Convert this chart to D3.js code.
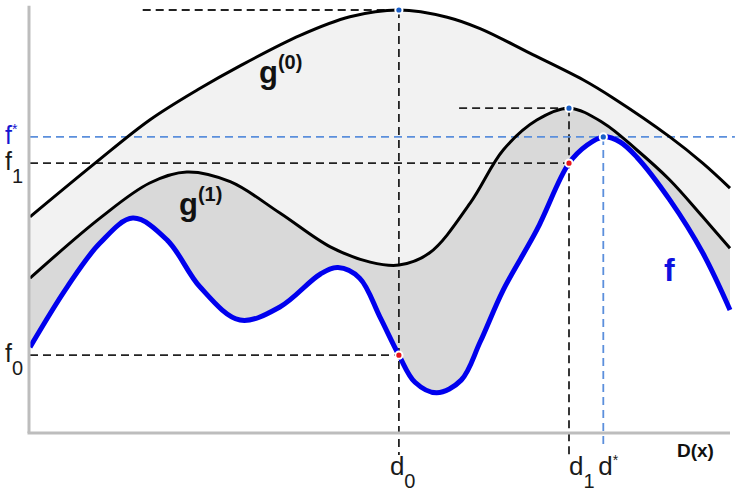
<!DOCTYPE html>
<html>
<head>
<meta charset="utf-8">
<script src="https://cdn.jsdelivr.net/npm/d3@7"></script>
<style>
  html, body { margin: 0; padding: 0; background: #fff; }
  svg { display: block; }
  text { font-family: "Liberation Sans", Arial, Helvetica, sans-serif; }
</style>
</head>
<body>
<div id="chart"></div>
<script>
// ---- Data (abstract units: x 0..100, y 0..100) ----
const g0Points = [
  [0, 51.1], [9.3, 63.8], [17.1, 74.0], [24, 81.2], [30, 86.8], [38.6, 94.0],
  [45.7, 98.4], [52.7, 100], [59.6, 98.3], [64.3, 95.6], [71.4, 89.8], [79, 83.5],
  [83.3, 79.2], [91.4, 70.0], [96.1, 63.8], [100, 57.9]
];
const g1Points = [
  [0, 36.6], [10, 50.8], [17.1, 59.1], [22.4, 61.7], [28.6, 59.4], [35.7, 52.0],
  [42.9, 44.0], [48.6, 40.4], [52.7, 39.7], [57.1, 42.6], [62.9, 54.4], [67.6, 66.9],
  [72.4, 74.0], [77, 76.8], [81.9, 73.3], [86.7, 66.9], [91.4, 59.8], [96.1, 51.1],
  [100, 43.7]
];
const fPoints = [
  [0, 20.3], [5.3, 34.5], [10, 44.9], [14.7, 50.8], [19.6, 45.6], [24.3, 34.5],
  [30, 26.7], [35.7, 29.8], [41.5, 37.6], [44.0, 39.1], [47.1, 36.6], [50, 27.4], [52.7, 18.4],
  [55, 12.0], [58.1, 9.5], [61.6, 12.5], [64.3, 21.5], [67.6, 33.8], [72.4, 48.0],
  [77, 63.8], [79.6, 68.1], [81.9, 70.0], [84.3, 68.8], [86.7, 65.2], [91.4, 55.1],
  [96.1, 42.6], [100, 29.1]
];
// key positions
const dValues = { d0: 52.7, d1: 77, dStar: 81.9 };
const fValues = { f0: 18.4, f1: 63.8, fStar: 70.0, g1Peak: 76.8, g0Peak: 100 };
const yLabels = [
  { main: "f", mark: "*", kind: "sup", value: 70.0, color: "#1515d0" },
  { main: "f", mark: "1", kind: "sub", value: 63.8, color: "#1a1a1a" },
  { main: "f", mark: "0", kind: "sub", value: 18.4, color: "#1a1a1a" }
];
const xLabels = [
  { main: "d", mark: "0", kind: "sub", value: 52.7 },
  { main: "d", mark: "1", kind: "sub", value: 77 },
  { main: "d", mark: "*", kind: "sup", value: 81.9 }
];
// label nudges in pixels (style, not data)
const xLabelNudge = [-9, 0, -5];

// ---- Setup ----
const W = 735, H = 492;
const svg = d3.select("#chart").append("svg").attr("width", W).attr("height", H);
const x = d3.scaleLinear().domain([0, 100]).range([30, 730]);
const y = d3.scaleLinear().domain([0, 100]).range([433, 10]);

const curve = d3.curveCatmullRom.alpha(0.5);
const area = d3.area().x(d => x(d[0])).y0(y(0)).y1(d => y(d[1])).curve(curve);
const line = d3.line().x(d => x(d[0])).y(d => y(d[1])).curve(curve);

// fills (layered)
svg.append("path").datum(g0Points).attr("d", area).attr("fill", "#f2f2f2");
svg.append("path").datum(g1Points).attr("d", area).attr("fill", "#d9d9d9");
svg.append("path").datum(fPoints).attr("d", area).attr("fill", "#ffffff");

// dashed guides
const dashBlack = { stroke: "#222", w: 1.8, dash: "8,5" };
const dashBlue = { stroke: "#5b8fdc", w: 1.8, dash: "8,5" };
function guide(x1, y1, x2, y2, st) {
  svg.append("line")
    .attr("x1", x(x1)).attr("y1", y(y1)).attr("x2", x(x2)).attr("y2", y(y2))
    .attr("stroke", st.stroke).attr("stroke-width", st.w).attr("stroke-dasharray", st.dash);
}
guide(16.1, fValues.g0Peak, dValues.d0, fValues.g0Peak, dashBlack);
guide(dValues.d0, fValues.g0Peak, dValues.d0, -5.2, dashBlack);
guide(61.3, fValues.g1Peak, dValues.d1, fValues.g1Peak, dashBlack);
guide(dValues.d1, fValues.g1Peak, dValues.d1, -5.2, dashBlack);
guide(0, fValues.f1, dValues.d1, fValues.f1, dashBlack);
guide(0, fValues.f0, dValues.d0, fValues.f0, dashBlack);
guide(0, fValues.fStar, 100.7, fValues.fStar, dashBlue);
guide(dValues.dStar, fValues.fStar, dValues.dStar, -2.8, dashBlue);

// curves
svg.append("path").datum(g0Points).attr("d", line).attr("fill", "none")
  .attr("stroke", "#000").attr("stroke-width", 3);
svg.append("path").datum(g1Points).attr("d", line).attr("fill", "none")
  .attr("stroke", "#000").attr("stroke-width", 3);
svg.append("path").datum(fPoints).attr("d", line).attr("fill", "none")
  .attr("stroke", "#0000ee").attr("stroke-width", 5);

// axes
svg.append("line").attr("x1", x(0) - 1).attr("x2", x(0) - 1).attr("y1", y(101)).attr("y2", y(0))
  .attr("stroke", "#bdbdbd").attr("stroke-width", 3);
svg.append("line").attr("x1", x(0) - 2.5).attr("x2", x(100)).attr("y1", y(0)).attr("y2", y(0))
  .attr("stroke", "#bdbdbd").attr("stroke-width", 3);

// dots
const dots = [
  { px: dValues.d0, py: fValues.g0Peak, c: "#1a5fc8" },
  { px: dValues.d1, py: fValues.g1Peak, c: "#1a5fc8" },
  { px: dValues.dStar, py: fValues.fStar, c: "#1a5fc8" },
  { px: dValues.d1, py: fValues.f1, c: "#e8141a" },
  { px: dValues.d0, py: fValues.f0, c: "#e8141a" }
];
svg.selectAll(".dot").data(dots).join("circle")
  .attr("cx", d => x(d.px)).attr("cy", d => y(d.py)).attr("r", 3.6)
  .attr("fill", d => d.c).attr("stroke", "#fff").attr("stroke-width", 2);

// labels
function label(tx, ty, main, mark, kind, color, size, subSize, weight, anchor) {
  const t = svg.append("text").attr("x", tx).attr("y", ty)
    .attr("fill", color).attr("font-size", size).attr("font-weight", weight || "normal")
    .attr("text-anchor", anchor || "start");
  t.append("tspan").text(main);
  t.append("tspan").attr("font-size", subSize)
    .attr("dy", kind === "sub" ? size * 0.5 : (mark === "*" ? -size * 0.4 : -size * 0.45))
    .text(mark);
  return t;
}
yLabels.forEach(l => {
  label(5, y(l.value) + 7, l.main, l.mark, l.kind, l.color, 25,
        l.mark === "*" ? 14 : 20, "normal");
});
xLabels.forEach((l, i) => {
  label(x(l.value) + xLabelNudge[i], 475, l.main, l.mark, l.kind, "#1a1a1a", 26,
        l.mark === "*" ? 14 : 20, "normal");
});
svg.append("text").attr("x", 677).attr("y", 457).attr("font-size", 19)
  .attr("font-weight", "bold").attr("fill", "#111").text("D(x)");
label(259, 83, "g", "(0)", "sup", "#111", 31, 20, "bold");
label(179, 215, "g", "(1)", "sup", "#111", 31, 20, "bold");
svg.append("text").attr("x", 664).attr("y", 281).attr("font-size", 32)
  .attr("font-weight", "bold").attr("fill", "#1010e0").text("f");
</script>
</body>
</html>
